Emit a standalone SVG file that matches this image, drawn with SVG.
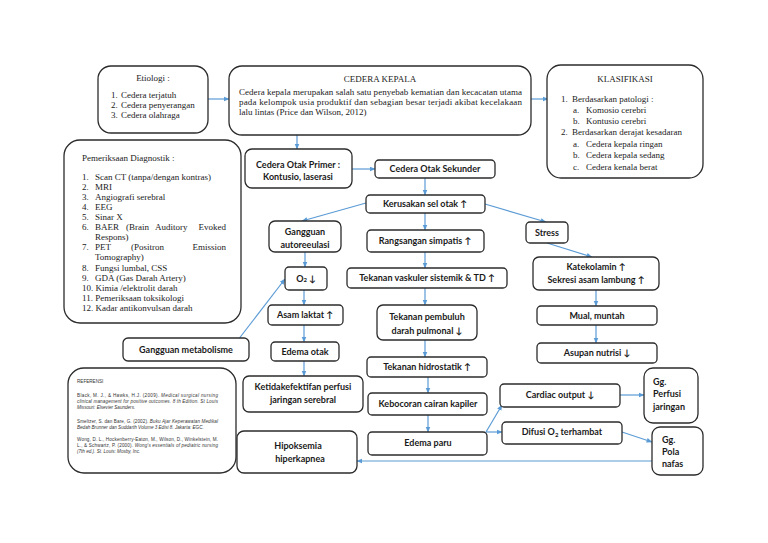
<svg xmlns="http://www.w3.org/2000/svg" width="768" height="543" viewBox="0 0 768 543">
<defs>
<marker id="ah" viewBox="0 0 10 10" refX="9" refY="5" markerWidth="6" markerHeight="6" orient="auto" markerUnits="userSpaceOnUse">
<path d="M0,1 L10,5 L0,9 z" fill="#5b9bd5"/>
</marker>
<style>
.box{fill:#fff;stroke:#2b2b2b;stroke-width:1.3}
.serif{font-family:"Liberation Serif","Times New Roman",serif;font-size:9px;fill:#1a1a1a}
.fl{font-family:Lato,"DejaVu Sans",sans-serif;font-weight:bold;font-size:9px;fill:#1a1a1a;text-anchor:middle}
.fll{font-family:Lato,"DejaVu Sans",sans-serif;font-weight:bold;font-size:9px;fill:#1a1a1a}
.ref{font-family:"Liberation Sans",Arial,sans-serif;font-size:4.6px;fill:#333}
.conn line,.conn polyline{stroke:#5b9bd5;stroke-width:1.2;fill:none}
</style>
</defs>
<rect width="768" height="543" fill="#fff"/>

<g class="conn">
<line x1="208" y1="99" x2="229" y2="99" marker-end="url(#ah)"/>
<line x1="531" y1="99" x2="548" y2="99" marker-end="url(#ah)"/>
<line x1="297" y1="135" x2="297" y2="149" marker-end="url(#ah)"/>
<line x1="352" y1="169" x2="375" y2="169" marker-end="url(#ah)"/>
<line x1="425" y1="178" x2="425" y2="195" marker-end="url(#ah)"/>
<line x1="366" y1="203" x2="302" y2="221" marker-end="url(#ah)"/>
<line x1="485" y1="204" x2="546" y2="222" marker-end="url(#ah)"/>
<line x1="425" y1="213" x2="425" y2="230" marker-end="url(#ah)"/>
<line x1="547" y1="243" x2="592" y2="257" marker-end="url(#ah)"/>
<line x1="305" y1="252" x2="305" y2="267" marker-end="url(#ah)"/>
<line x1="425" y1="252" x2="425" y2="268" marker-end="url(#ah)"/>
<line x1="238" y1="340" x2="285" y2="279" marker-end="url(#ah)"/>
<line x1="304" y1="290" x2="304" y2="305" marker-end="url(#ah)"/>
<line x1="425" y1="288" x2="425" y2="305" marker-end="url(#ah)"/>
<line x1="596" y1="290" x2="596" y2="306" marker-end="url(#ah)"/>
<line x1="304" y1="325" x2="304" y2="342" marker-end="url(#ah)"/>
<line x1="425" y1="340" x2="425" y2="357" marker-end="url(#ah)"/>
<line x1="596" y1="325" x2="596" y2="343" marker-end="url(#ah)"/>
<line x1="304" y1="361" x2="304" y2="376" marker-end="url(#ah)"/>
<line x1="449" y1="366" x2="449" y2="377" marker-end="url(#ah)"/>
<line x1="428" y1="377" x2="428" y2="393" marker-end="url(#ah)"/>
<line x1="428" y1="415" x2="428" y2="432" marker-end="url(#ah)"/>
<line x1="486" y1="432" x2="502" y2="405" marker-end="url(#ah)"/>
<line x1="486" y1="432" x2="502" y2="432" marker-end="url(#ah)"/>
<line x1="620" y1="395" x2="644" y2="395" marker-end="url(#ah)"/>
<line x1="622" y1="432" x2="652" y2="442" marker-end="url(#ah)"/>
<line x1="652" y1="461" x2="357" y2="461" marker-end="url(#ah)"/>
</g>

<g id="etiologi">
<rect class="box" x="98" y="66" width="110" height="67" rx="13"/>
<text class="serif" x="153" y="81" text-anchor="middle">Etiologi :</text>
<text class="serif" x="111" y="98">1.</text><text class="serif" x="121" y="98">Cedera terjatuh</text>
<text class="serif" x="111" y="108">2.</text><text class="serif" x="121" y="108">Cedera penyerangan</text>
<text class="serif" x="111" y="118">3.</text><text class="serif" x="121" y="118">Cedera olahraga</text>
</g>

<g id="cedera-kepala">
<rect class="box" x="229" y="66" width="302" height="69" rx="13"/>
<text class="serif" x="380" y="82" text-anchor="middle">CEDERA KEPALA</text>
<text class="serif" x="239" y="95" textLength="283" lengthAdjust="spacing">Cedera kepala merupakan salah satu penyebab kematian dan kecacatan utama</text>
<text class="serif" x="239" y="105" textLength="283" lengthAdjust="spacing">pada kelompok usia produktif dan sebagian besar terjadi akibat kecelakaan</text>
<text class="serif" x="239" y="115">lalu lintas (Price dan Wilson, 2012)</text>
</g>

<g id="klasifikasi">
<rect class="box" x="547" y="65" width="156" height="113" rx="14"/>
<text class="serif" x="625" y="82" text-anchor="middle">KLASIFIKASI</text>
<text class="serif" x="561" y="102">1.</text><text class="serif" x="572" y="102">Berdasarkan patologi :</text>
<text class="serif" x="573" y="113">a.</text><text class="serif" x="586" y="113">Komosio cerebri</text>
<text class="serif" x="573" y="124">b.</text><text class="serif" x="586" y="124">Kontusio cerebri</text>
<text class="serif" x="561" y="135">2.</text><text class="serif" x="572" y="135">Berdasarkan derajat kesadaran</text>
<text class="serif" x="573" y="147">a.</text><text class="serif" x="586" y="147">Cedera kepala ringan</text>
<text class="serif" x="573" y="158">b.</text><text class="serif" x="586" y="158">Cedera kepala sedang</text>
<text class="serif" x="573" y="170">c.</text><text class="serif" x="586" y="170">Cedera kenala berat</text>
</g>

<g id="diagnostik">
<rect class="box" x="64" y="140" width="177" height="183" rx="16"/>
<text class="serif" x="82" y="161">Pemeriksaan Diagnostik :</text>
<text class="serif" x="82" y="180">1.</text><text class="serif" x="95" y="180">Scan CT (tanpa/dengan kontras)</text>
<text class="serif" x="82" y="190">2.</text><text class="serif" x="95" y="190">MRI</text>
<text class="serif" x="82" y="200">3.</text><text class="serif" x="95" y="200">Angiografi serebral</text>
<text class="serif" x="82" y="210">4.</text><text class="serif" x="95" y="210">EEG</text>
<text class="serif" x="82" y="220">5.</text><text class="serif" x="95" y="220">Sinar X</text>
<text class="serif" x="82" y="230">6.</text><text class="serif" x="95" y="230">BAER</text><text class="serif" x="126" y="230">(Brain</text><text class="serif" x="155" y="230">Auditory</text><text class="serif" x="226" y="230" text-anchor="end">Evoked</text>
<text class="serif" x="95" y="240">Respons)</text>
<text class="serif" x="82" y="250">7.</text><text class="serif" x="95" y="250">PET</text><text class="serif" x="131" y="250">(Positron</text><text class="serif" x="226" y="250" text-anchor="end">Emission</text>
<text class="serif" x="95" y="260">Tomography)</text>
<text class="serif" x="82" y="271">8.</text><text class="serif" x="95" y="271">Fungsi lumbal, CSS</text>
<text class="serif" x="82" y="281">9.</text><text class="serif" x="95" y="281">GDA (Gas Darah Artery)</text>
<text class="serif" x="82" y="291">10. Kimia /elektrolit darah</text>
<text class="serif" x="82" y="301">11. Pemeriksaan toksikologi</text>
<text class="serif" x="82" y="311">12. Kadar antikonvulsan darah</text>
</g>

<g id="referensi">
<rect class="box" x="68" y="368" width="168" height="105" rx="16"/>
<text class="ref" x="77" y="383">REFERENSI</text>
<text class="ref" x="77" y="397" textLength="141" lengthAdjust="spacing">Black, M. J., &amp; Hawks, H.J. (2009). <tspan font-style="italic">Medical surgical nursing</tspan></text>
<text class="ref" x="77" y="403" font-style="italic" textLength="141" lengthAdjust="spacing">clinical management for positive outcomes. 8 th Edition. St Louis</text>
<text class="ref" x="77" y="409" font-style="italic">Missouri: Elsevier Saunders.</text>
<text class="ref" x="77" y="423" textLength="141" lengthAdjust="spacing">Smeltzer, S. dan Bare, G. (2002). <tspan font-style="italic">Buku Ajar Keperawatan Medikal</tspan></text>
<text class="ref" x="77" y="429" font-style="italic">Bedah Brunner dan Suddarth Volume 3 Edisi 8. Jakarta: EGC.</text>
<text class="ref" x="77" y="441" textLength="141" lengthAdjust="spacing">Wong, D. L., Hockenberry-Eaton, M., Wilson, D., Winkelstein, M.</text>
<text class="ref" x="77" y="447" textLength="141" lengthAdjust="spacing">L., &amp; Schwartz, P. (2000). <tspan font-style="italic">Wong's essentials of pediatric nursing</tspan></text>
<text class="ref" x="77" y="453" font-style="italic">(7th ed.). St. Louis: Mosby, Inc.</text>
</g>

<g id="primer">
<rect class="box" x="245" y="149" width="107" height="39" rx="7"/>
<text class="fl" x="298" y="168">Cedera Otak Primer :</text>
<text class="fl" x="298" y="180">Kontusio, laserasi</text>
</g>
<g id="sekunder">
<rect class="box" x="375" y="160" width="120" height="18" rx="4"/>
<text class="fl" x="435" y="172">Cedera Otak Sekunder</text>
</g>
<g id="kerusakan">
<rect class="box" x="366" y="195" width="119" height="18" rx="4"/>
<text class="fl" x="425" y="207">Kerusakan sel otak ↑</text>
</g>
<g id="autoregulasi">
<rect class="box" x="269" y="221" width="72" height="31" rx="6"/>
<text class="fl" x="305" y="235">Gangguan</text>
<text class="fl" x="305" y="248">autoreeulasi</text>
</g>
<g id="rangsangan">
<rect class="box" x="367" y="230" width="117" height="22" rx="4"/>
<text class="fl" x="425" y="244">Rangsangan simpatis ↑</text>
</g>
<g id="stress">
<rect class="box" x="526" y="222" width="42" height="21" rx="4"/>
<text class="fl" x="547" y="236">Stress</text>
</g>
<g id="o2">
<rect class="box" x="285" y="267" width="42" height="23" rx="4"/>
<text class="fl" x="306" y="282">O<tspan font-size="6">2</tspan> ↓</text>
</g>
<g id="vaskuler">
<rect class="box" x="347" y="268" width="160" height="20" rx="4"/>
<text class="fl" x="427" y="281">Tekanan vaskuler sistemik &amp; TD ↑</text>
</g>
<g id="katekolamin">
<rect class="box" x="533" y="257" width="126" height="33" rx="6"/>
<text class="fl" x="596" y="270">Katekolamin ↑</text>
<text class="fl" x="596" y="283">Sekresi asam lambung ↑</text>
</g>
<g id="asam-laktat">
<rect class="box" x="268" y="305" width="75" height="20" rx="4"/>
<text class="fl" x="305" y="318">Asam laktat ↑</text>
</g>
<g id="pembuluh">
<rect class="box" x="377" y="305" width="100" height="35" rx="6"/>
<text class="fl" x="427" y="320">Tekanan pembuluh</text>
<text class="fl" x="427" y="334">darah pulmonal ↓</text>
</g>
<g id="mual">
<rect class="box" x="537" y="306" width="120" height="19" rx="4"/>
<text class="fl" x="597" y="319">Mual, muntah</text>
</g>
<g id="metabolisme">
<rect class="box" x="123" y="338" width="126" height="23" rx="5"/>
<text class="fl" x="186" y="353" font-size="10">Gangguan metabolisme</text>
</g>
<g id="edema-otak">
<rect class="box" x="271" y="342" width="68" height="19" rx="4"/>
<text class="fl" x="305" y="355">Edema otak</text>
</g>
<g id="asupan">
<rect class="box" x="537" y="343" width="120" height="20" rx="4"/>
<text class="fl" x="597" y="356">Asupan nutrisi ↓</text>
</g>
<g id="hidrostatik">
<rect class="box" x="367" y="357" width="120" height="20" rx="4"/>
<text class="fl" x="427" y="370">Tekanan hidrostatik ↑</text>
</g>
<g id="perfusi-serebral">
<rect class="box" x="243" y="376" width="120" height="36" rx="6"/>
<text class="fl" x="303" y="390">Ketidakefektifan perfusi</text>
<text class="fl" x="303" y="403">jaringan serebral</text>
</g>
<g id="kebocoran">
<rect class="box" x="368" y="393" width="119" height="22" rx="4"/>
<text class="fl" x="428" y="407">Kebocoran cairan kapiler</text>
</g>
<g id="cardiac">
<rect class="box" x="500" y="384" width="120" height="23" rx="4"/>
<text class="fl" x="560" y="398">Cardiac output ↓</text>
</g>
<g id="gg-perfusi">
<rect class="box" x="644" y="368" width="54" height="55" rx="9"/>
<text class="fll" x="653" y="385">Gg.</text>
<text class="fll" x="653" y="397">Perfusi</text>
<text class="fll" x="653" y="410">jaringan</text>
</g>
<g id="difusi">
<rect class="box" x="502" y="422" width="120" height="22" rx="4"/>
<text class="fl" x="562" y="435">Difusi O<tspan font-size="6" dy="2">2</tspan><tspan dy="-2"> terhambat</tspan></text>
</g>
<g id="gg-pola">
<rect class="box" x="652" y="427" width="51" height="48" rx="8"/>
<text class="fll" x="662" y="443">Gg.</text>
<text class="fll" x="662" y="455">Pola</text>
<text class="fll" x="662" y="467">nafas</text>
</g>
<g id="edema-paru">
<rect class="box" x="368" y="432" width="119" height="23" rx="4"/>
<text class="fl" x="428" y="446">Edema paru</text>
</g>
<g id="hipoksemia">
<rect class="box" x="237" y="431" width="120" height="42" rx="7"/>
<text class="fl" x="298" y="449">Hipoksemia</text>
<text class="fl" x="300" y="462">hiperkapnea</text>
</g>
</svg>
